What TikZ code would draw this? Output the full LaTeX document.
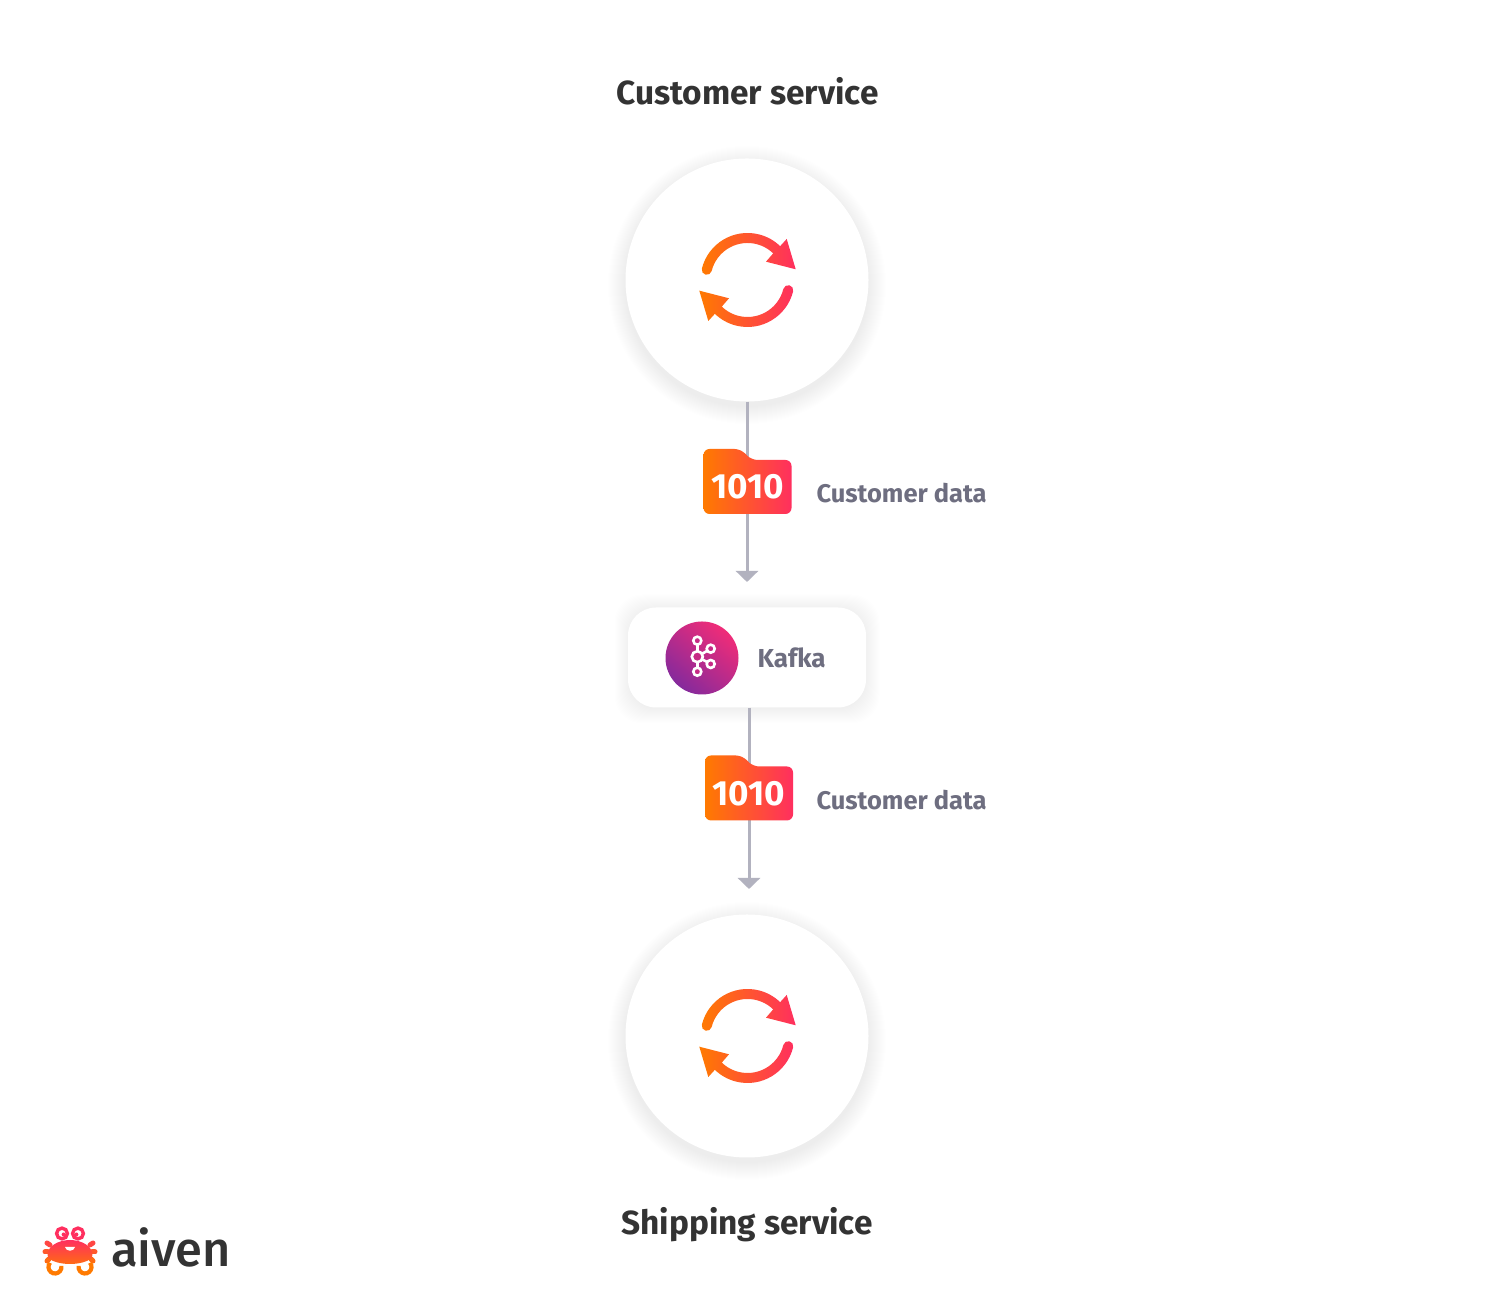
\documentclass[tikz,border=0pt]{standalone}
\usepackage{fontspec}
\setmainfont{Fira Sans}
\newfontfamily\logofont{Fira Sans Medium}
\usetikzlibrary{arrows.meta}
\usetikzlibrary{positioning}
\definecolor{flamea}{HTML}{FF7A00}
\definecolor{flameb}{HTML}{FF2F5F}
\definecolor{inkdark}{HTML}{333333}
\definecolor{inkgrey}{HTML}{6E6E80}
\definecolor{linegrey}{HTML}{B2B2BF}
\definecolor{kafkatop}{HTML}{F02C78}
\definecolor{kafkalow}{HTML}{852A9C}
\definecolor{kafkafill}{HTML}{C62A85}
\tikzset{flow/.style = {draw=linegrey, line width=3, -{Triangle[width=22pt, length=11pt]}}}
\tikzset{flame/.style = {left color=flamea, right color=flameb}}
\tikzset{title/.style = {text=inkdark, font=\fontsize{33.4}{33.4}\selectfont\bfseries}}
\tikzset{datalabel/.style = {text=inkgrey, anchor=west, font=\fontsize{25.5}{25.5}\selectfont\bfseries}}
\tikzset{service/.style = {circle, fill=white, minimum size=243, inner sep=0}}
\tikzset{syncicon/.pic = {
    \shade [flame] (166:47) arc [start angle=166, end angle=46, radius=47]
      -- (39.2, 41) -- (48.2, 10.7) -- (18.5, 18.3) -- (46:37)
      arc [start angle=46, end angle=166, radius=37]
      arc [start angle=346, end angle=166, radius=5] -- cycle;
    \shade [flame] (346:47) arc [start angle=346, end angle=226, radius=47]
      -- (-39.2, -41) -- (-48.2, -10.7) -- (-18.5, -18.3) -- (226:37)
      arc [start angle=226, end angle=346, radius=37]
      arc [start angle=166, end angle=-14, radius=5] -- cycle;
}}
\tikzset{datafolder/.pic = {
    \shade [flame, rounded corners=6] (-44, -32.5) -- (-44, 32.5) -- (-7, 32.5) -- (4, 21.5)
      -- (44, 21.5) -- (44, -32.5) -- cycle;
    \node (-bits) [text=white, font=\fontsize{35}{35}\selectfont\bfseries] at (0, -5.5) {1010};
}}
\tikzset{crab/.pic = {
    \foreach \s in {-1, 1} {
      \begin{scope}[xscale=\s]
        \draw [fill=white, draw=flameb, line width=3.4] (8, 19.5) circle [radius=5.4];
        \fill [flameb] (6.4, 18.5) circle [radius=2];
        \draw [flameb!70!flamea, line width=5, line cap=round] (20, 8) -- (23, 10);
        \draw [flameb!45!flamea, line width=5, line cap=round] (22, 1) -- (25, 1);
        \draw [flameb!20!flamea, line width=5, line cap=round] (21, -6) -- (23, -8);
        \draw [flamea, line width=4.2] (15, -14) ++ (40:6.5) arc [start angle=40, end angle=-190, radius=6.5];
      \end{scope}
    }
    \shade [top color=flameb, bottom color=flamea!85!flameb] (-22, -5) .. controls (-25, 6) and (-12, 13) .. (0, 13)
      .. controls (12, 13) and (25, 6) .. (22, -5) .. controls (12, -13) and (-12, -13) .. cycle;
    \fill [white] (-5, 6) .. controls (-4, 1) and (4, 1) .. (5, 6) -- cycle;
}}
\newcommand{\softcircle}[3]{
  \foreach \d in {1, 3, ..., 35}
    \fill [black, opacity=0.0028] (#1, #2 - 5) circle [radius=#3 + 18 - \d * 0.5];
}
\newcommand{\softbox}[4]{
  \foreach \d in {1, 3, ..., 29}
    \fill [black, opacity=0.0025, rounded corners=28]
      (#1 - 14 + \d * 0.5, #2 - 16 + \d * 0.5) rectangle (#3 + 14 - \d * 0.5, #4 + 13 - \d * 0.5);
}

\begin{document}
\begin{tikzpicture}[x=1pt, y=1pt]
      \useasboundingbox (0, 0) rectangle (1500, 1313);
      \fill [white] (0, 0) rectangle (1500, 1313);

      \softcircle{747}{1033}{121.5}
      \softcircle{747}{277}{121.5}
      \softbox{628}{605}{866}{706}

      \node (custsvc) [service] at (747, 1033) {};
      \node (shipsvc) [service] at (747, 277) {};
      \node (kafka) [fill=white, rounded corners=28, minimum width=238, minimum height=100, inner sep=0] at (747, 655.5) {};

      \node (custtitle) [title] at (747.5, 1221.5) {Customer service};
      \node (shiptitle) [title] at (747, 88) {Shipping service};

      \coordinate (tipa) at (747, 731);
      \coordinate (tipb) at (749, 424);
      \draw [flow] (custsvc) -- (tipa);
      \draw [flow] (kafka.south -| tipb) -- (tipb);

      \pic (dataa) at (747.5, 831.5) {datafolder};
      \pic (datab) at (749, 525) {datafolder};
      \node (labela) [datalabel] at (813, 820) {Customer data};
      \node (labelb) [datalabel] at (813, 513) {Customer data};

      \pic at (747.5, 1033) {syncicon};
      \pic at (747.5, 277) {syncicon};

      \shade [shading=axis, top color=kafkatop, bottom color=kafkalow, shading angle=-40] (702, 655) circle [radius=36.5];
      \node (kafkatext) [text=inkgrey, anchor=west, font=\fontsize{26}{26}\selectfont\bfseries] at (754, 655) {Kafka};

      \begin{scope}[draw=white, line width=2.6]
        \draw (697.3, 672.3) -- (697.3, 641.3);
        \draw (697.3, 656.3) -- (710.7, 664.3);
        \draw (697.3, 656.3) -- (710.7, 649);
        \filldraw [fill=kafkafill] (697.3, 672.3) circle [radius=4];
        \filldraw [fill=kafkafill] (697.3, 656.3) circle [radius=5.5];
        \filldraw [fill=kafkafill] (697.3, 641.3) circle [radius=4];
        \filldraw [fill=kafkafill] (710.7, 664.3) circle [radius=4];
        \filldraw [fill=kafkafill] (710.7, 649) circle [radius=4];
      \end{scope}

      \pic at (70, 60) {crab};
      \node (logotext) [text=inkdark, anchor=base west, font=\fontsize{48.8}{48.8}\selectfont\logofont, inner sep=0] at (111, 46) {aiven};
\end{tikzpicture}
\end{document}
